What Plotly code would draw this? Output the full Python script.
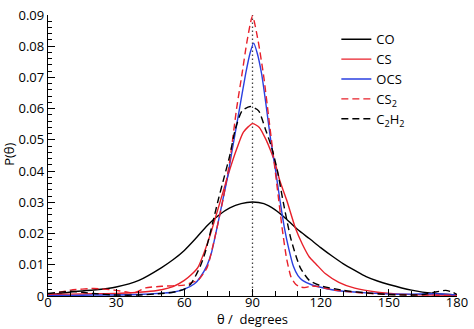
import plotly.graph_objects as go

# ---------------- data ----------------
co_x = [0, 10, 20, 30, 40, 50, 55, 60, 65, 70, 75, 80, 85, 90, 95, 100, 105, 110, 115,
        120, 125, 130, 135, 140, 145, 150, 160, 170, 180]
co_y = [0.0003, 0.0013, 0.0019, 0.0029, 0.0050, 0.0091, 0.0116, 0.0146, 0.0184, 0.0225,
        0.0258, 0.0282, 0.0296, 0.0301, 0.0296, 0.0276, 0.0246, 0.0212, 0.0184, 0.0155,
        0.0128, 0.0103, 0.0082, 0.0062, 0.0048, 0.0037, 0.0019, 0.0008, 0.0003]

cs_x = [0, 10, 20, 30, 40, 45, 50, 55, 60, 63, 66, 69, 72, 76, 80, 83, 86, 90, 93, 96,
        98, 100, 102, 105, 109, 112, 115, 118, 122, 128, 135, 145, 155, 165, 180]
cs_y = [0.0005, 0.0006, 0.0007, 0.0008, 0.0012, 0.0015, 0.0020, 0.0030, 0.0050, 0.0068,
        0.0092, 0.0145, 0.0210, 0.0308, 0.0405, 0.0470, 0.0525, 0.0552, 0.0540, 0.0500,
        0.0465, 0.0425, 0.0370, 0.0308, 0.0215, 0.0165, 0.0125, 0.0102, 0.0072, 0.0044,
        0.0025, 0.0012, 0.0006, 0.0004, 0.0002]

ocs_x = [0, 10, 20, 30, 40, 50, 55, 60, 64.5, 67, 70, 72, 74.6, 77, 79, 81, 84, 87, 89,
         90.5, 92, 94, 96, 98, 100, 102, 104, 106, 108, 110, 112, 116, 120, 125, 130,
         140, 150, 160, 170, 180]
ocs_y = [0.0002, 0.0002, 0.0003, 0.0003, 0.0005, 0.0009, 0.0012, 0.0022, 0.0039, 0.0060,
         0.0098, 0.0140, 0.0226, 0.0310, 0.0380, 0.0465, 0.0588, 0.0712, 0.0780, 0.0810,
         0.0780, 0.0712, 0.0610, 0.0500, 0.0410, 0.0310, 0.0220, 0.0150, 0.0095, 0.0065,
         0.0050, 0.0036, 0.0028, 0.0020, 0.0015, 0.0010, 0.0006, 0.0006, 0.0007, 0.0003]

cs2_x = [0, 5, 10, 20, 25, 30, 35, 38, 43, 50, 60, 64, 66, 70, 73, 77, 80, 83, 85.4,
         87.6, 90, 92.5, 95, 97, 99, 101, 103, 105, 107, 109, 111, 113, 116, 119, 122,
         127, 132, 140, 150, 165, 180]
cs2_y = [0.0005, 0.0012, 0.0019, 0.0024, 0.0022, 0.0018, 0.0012, 0.0010, 0.0026, 0.0031,
         0.0035, 0.0045, 0.0050, 0.0091, 0.0174, 0.0308, 0.0433, 0.0600, 0.0712, 0.0816,
         0.0897, 0.0816, 0.0700, 0.0580, 0.0460, 0.0340, 0.0220, 0.0120, 0.0060, 0.0038,
         0.0029, 0.0027, 0.0032, 0.0030, 0.0025, 0.0018, 0.0014, 0.0009, 0.0005, 0.0003,
         0.0002]

c2h2_x = [0, 5, 10, 15, 20, 30, 40, 50, 55, 60, 63, 65, 67, 69, 71, 73, 75, 77.5, 80,
          82.5, 85.4, 89, 92.7, 95.6, 98.5, 101, 103.6, 107, 111, 115, 120, 130, 140,
          150, 160, 165, 170, 175, 178, 180]
c2h2_y = [0.0008, 0.0012, 0.0015, 0.0012, 0.0008, 0.0003, 0.0003, 0.0008, 0.0012, 0.0022,
          0.0040, 0.0065, 0.0095, 0.0135, 0.0190, 0.0250, 0.0310, 0.0380, 0.0450, 0.0536,
          0.0593, 0.0607, 0.0593, 0.0536, 0.0474, 0.0400, 0.0298, 0.0180, 0.0091, 0.0050,
          0.0033, 0.0018, 0.0010, 0.0005, 0.0003, 0.0005, 0.0012, 0.0018, 0.0012, 0.0005]

ref_x = [90, 90]
ref_y = [0, 0.09]

series_names = ["CO", "CS", "OCS", "CS<sub>2</sub>", "C<sub>2</sub>H<sub>2</sub>"]
x_tick_vals = [0, 30, 60, 90, 120, 150, 180]
y_tick_vals = [0, 0.01, 0.02, 0.03, 0.04, 0.05, 0.06, 0.07, 0.08, 0.09]

# ---------------- figure ----------------
RED = "#e8202a"
BLUE = "#2a3fe0"
BLACK = "#000000"
FONT = "Open Sans"

fig = go.Figure()

fig.add_trace(go.Scatter(x=ref_x, y=ref_y, mode="lines", showlegend=False,
                         line=dict(color="#444444", width=1.3, dash="1.5px,2.5px"),
                         hoverinfo="skip"))

styles = [
    (co_x, co_y, BLACK, "solid"),
    (cs_x, cs_y, RED, "solid"),
    (ocs_x, ocs_y, BLUE, "solid"),
    (cs2_x, cs2_y, RED, "7px,4px"),
    (c2h2_x, c2h2_y, BLACK, "7px,4px"),
]
for (xs, ys, col, dash), name in zip(styles, series_names):
    fig.add_trace(go.Scatter(x=xs, y=ys, mode="lines", name=name,
                             line=dict(color=col, width=1.4, dash=dash,
                                       shape="spline", smoothing=0.6)))

fig.update_layout(
    width=474, height=329,
    margin=dict(l=48, r=11, t=6, b=33),
    paper_bgcolor="white", plot_bgcolor="white",
    font=dict(family=FONT, size=13, color="black"),
    showlegend=True,
    legend=dict(x=0.705, y=0.967, xanchor="left", yanchor="top",
                bgcolor="rgba(0,0,0,0)", borderwidth=0,
                font=dict(family=FONT, size=13, color="black"),
                tracegroupgap=0, itemwidth=30),
    xaxis=dict(range=[0, 180], tickvals=x_tick_vals, ticks="inside", ticklen=7,
               tickwidth=1.2, tickcolor="black", showline=True, linecolor="black",
               linewidth=1.4, showgrid=False, zeroline=False,
               ticklabeloverflow="allow", ticklabelstandoff=-6,
               minor=dict(dtick=10, ticks="inside", ticklen=5, tickwidth=1,
                          tickcolor="black", showgrid=False),
               tickfont=dict(family=FONT, size=13)),
    yaxis=dict(range=[0, 0.09], tickvals=y_tick_vals, ticks="inside", ticklen=7,
               tickwidth=1.2, tickcolor="black", showline=True, linecolor="black",
               linewidth=1.4, showgrid=False, zeroline=False,
               ticklabeloverflow="allow",
               minor=dict(dtick=0.002, ticks="inside", ticklen=4, tickwidth=1,
                          tickcolor="black", showgrid=False),
               tickfont=dict(family=FONT, size=13)),
    annotations=[
        dict(text="P(θ)", xref="paper", yref="paper", x=-0.096, y=0.505,
             xanchor="center", yanchor="middle", textangle=-90, showarrow=False,
             font=dict(family=FONT, size=13)),
        dict(text="θ /  degrees", xref="paper", yref="paper", x=0.5, y=-0.083,
             xanchor="center", yanchor="middle", showarrow=False,
             font=dict(family=FONT, size=13)),
    ],
)

fig.write_html("out.html")
